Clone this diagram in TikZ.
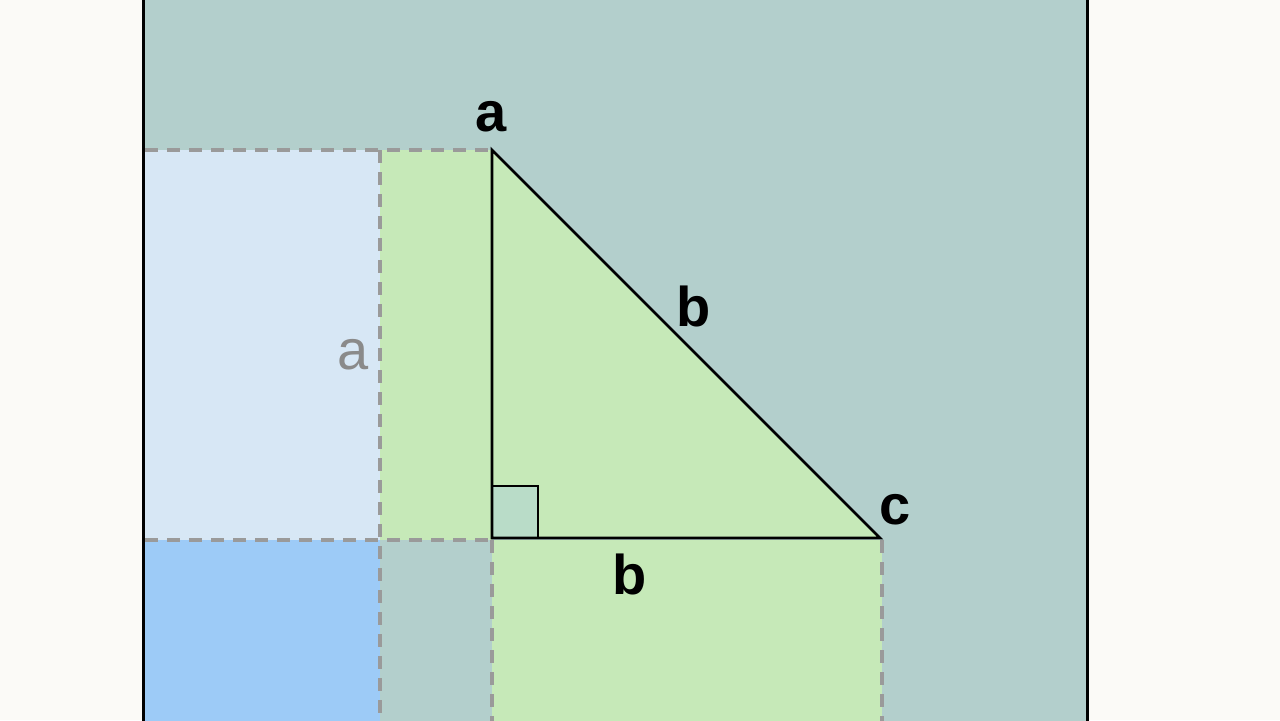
\documentclass[tikz,border=0pt]{standalone}
\usepackage{fontspec}
\setmainfont{Liberation Sans}
\definecolor{pagebg}{HTML}{FBFAF7}
\definecolor{teal}{HTML}{B3CFCC}
\definecolor{lightblue}{HTML}{D7E7F5}
\definecolor{greenfill}{HTML}{C6E9B8}
\definecolor{bluefill}{HTML}{9DCBF7}
\definecolor{cornerfill}{HTML}{B9DCC8}
\definecolor{dashgray}{HTML}{9A9A9A}
\definecolor{labelgray}{HTML}{8A8A8A}
\tikzset{
  dashline/.style={dashgray, line width=1.6pt, dash pattern=on 6.5pt off 4.5pt},
  edge/.style={black, line width=1.4pt},
  lbl/.style={font=\fontsize{28}{30}\selectfont\bfseries, text=black, inner sep=0pt},
  lblgray/.style={font=\fontsize{28}{30}\selectfont, text=labelgray, inner sep=0pt}
}
\begin{document}
\begin{tikzpicture}[x=0.5pt,y=-0.5pt]
\useasboundingbox (0,0) rectangle (1280,720);
\fill[pagebg] (0,0) rectangle (1280,720);
% big square
\fill[teal] (143,-10) rectangle (1087,730);
% regions
\fill[lightblue] (145,150) rectangle (380,540);
\fill[greenfill] (380,150) rectangle (492,540);
\fill[bluefill] (145,540) rectangle (380,730);
\fill[greenfill] (492,540) rectangle (882,730);
% triangle
\coordinate (A) at (492,150);
\coordinate (R) at (492,538);
\coordinate (C) at (880,538);
\fill[greenfill] (A) -- (R) -- (C) -- cycle;
\filldraw[fill=cornerfill, draw=black, line width=1.4pt] (492,486) rectangle (538,538);
\draw[edge, line join=miter] (A) -- (R) -- (C) -- cycle;
% dashed lines
\coordinate (h1a) at (145,150);
\coordinate (h2a) at (145,540);
\coordinate (h2b) at (492,540);
\coordinate (v1a) at (380,150);
\coordinate (v1b) at (380,730);
\coordinate (v2b) at (492,730);
\coordinate (v3a) at (882,540);
\coordinate (v3b) at (882,730);
\draw[dashline] (h1a) -- (A);
\draw[dashline] (h2a) -- (h2b);
\draw[dashline] (v1a) -- (v1b);
\draw[dashline] (h2b) -- (v2b);
\draw[dashline] (v3a) -- (v3b);
% border
\draw[black, line width=1.5pt] (143,-10) rectangle (1087,730);
% labels
\node[lbl] (la) at (491,117) {a};
\node[lbl] (lb1) at (694,306) {b};
\node[lbl] (lc) at (895,510) {c};
\node[lbl] (lb2) at (630,574) {b};
\node[lblgray] (la2) at (353,355) {a};
\end{tikzpicture}
\end{document}
